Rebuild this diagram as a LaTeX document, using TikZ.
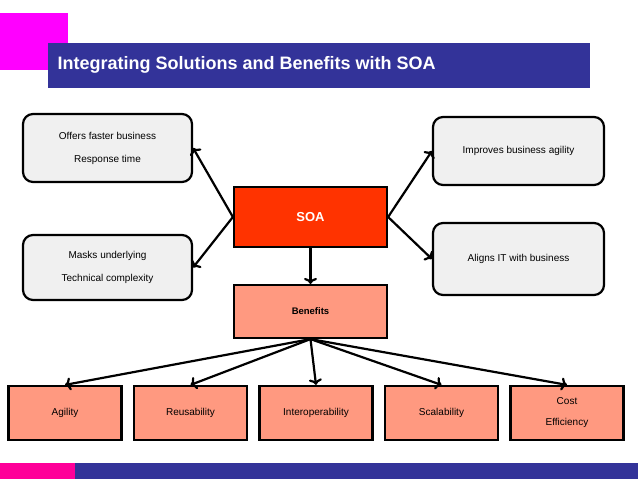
\documentclass[tikz,border=0pt]{standalone}
\usepackage{fontspec}
\setmainfont{Liberation Sans}
\usetikzlibrary{arrows.meta}
\definecolor{titleblue}{HTML}{333399}
\definecolor{mag}{HTML}{FF00FF}
\definecolor{mag2}{HTML}{FF0099}
\definecolor{soared}{HTML}{FF3300}
\definecolor{salmon}{HTML}{FF9980}
\definecolor{boxgray}{HTML}{F0F0F0}
\tikzset{
  graybox/.style={draw=black,line width=2.2pt,fill=boxgray,rounded corners=10pt,minimum width=169pt,align=center,font=\fontsize{10}{23}\selectfont},
  redbox/.style={draw=black,line width=2.2pt,fill=soared,minimum width=153pt,minimum height=60pt,font=\bfseries\fontsize{13}{15}\selectfont,text=white},
  benbox/.style={draw=black,line width=2.2pt,fill=salmon,minimum width=153pt,minimum height=53pt,font=\bfseries\fontsize{9.5}{11}\selectfont},
  botbox/.style={draw=black,line width=2.2pt,fill=salmon,minimum width=113pt,minimum height=54pt,align=center,font=\fontsize{10}{21}\selectfont},
  conn/.style={line width=2.2pt,-{To[length=6pt,width=13pt]}}
}
\begin{document}
\begin{tikzpicture}[x=1pt,y=-1pt]
\useasboundingbox (0,0) rectangle (638,479);
\fill[mag] (0,13) rectangle (68,70);
\fill[titleblue] (48,43) rectangle (590,88);
\node[anchor=west,text=white,font=\bfseries\fontsize{18}{20}\selectfont] (title) at (54,65) {Integrating Solutions and Benefits with SOA};
\node[graybox,minimum height=68pt] (l1) at (107.5,148) {Offers faster business\\Response time};
\node[graybox,minimum height=65pt] (l2) at (107.5,267.5) {Masks underlying\\Technical complexity};
\node[graybox,minimum height=68pt,minimum width=171pt] (r1) at (518.5,151) {Improves business agility};
\node[graybox,minimum height=72pt,minimum width=171pt] (r2) at (518.5,259) {Aligns IT with business};
\node[redbox] (soa) at (310.5,217) {SOA};
\node[benbox] (ben) at (310.5,311.5) {Benefits};
\node[botbox] (b1) at (65,413) {Agility};
\node[botbox] (b2) at (190.5,413) {Reusability};
\node[botbox] (b3) at (316,413) {Interoperability};
\node[botbox] (b4) at (441.5,413) {Scalability};
\node[botbox] (b5) at (567,413) {Cost\\Efficiency};
\draw[conn] (soa.west) -- (l1.east);
\draw[conn] (soa.west) -- (l2.east);
\draw[conn] (soa.east) -- (r1.west);
\draw[conn] (soa.east) -- (r2.west);
\draw[conn] (soa.south) -- (ben.north);
\foreach \b in {b1,b2,b3,b4,b5} \draw[conn] (ben.south) -- (\b.north);
\fill[mag2] (0,463) rectangle (75,479);
\fill[titleblue] (75,463) rectangle (638,479);
\end{tikzpicture}
\end{document}
